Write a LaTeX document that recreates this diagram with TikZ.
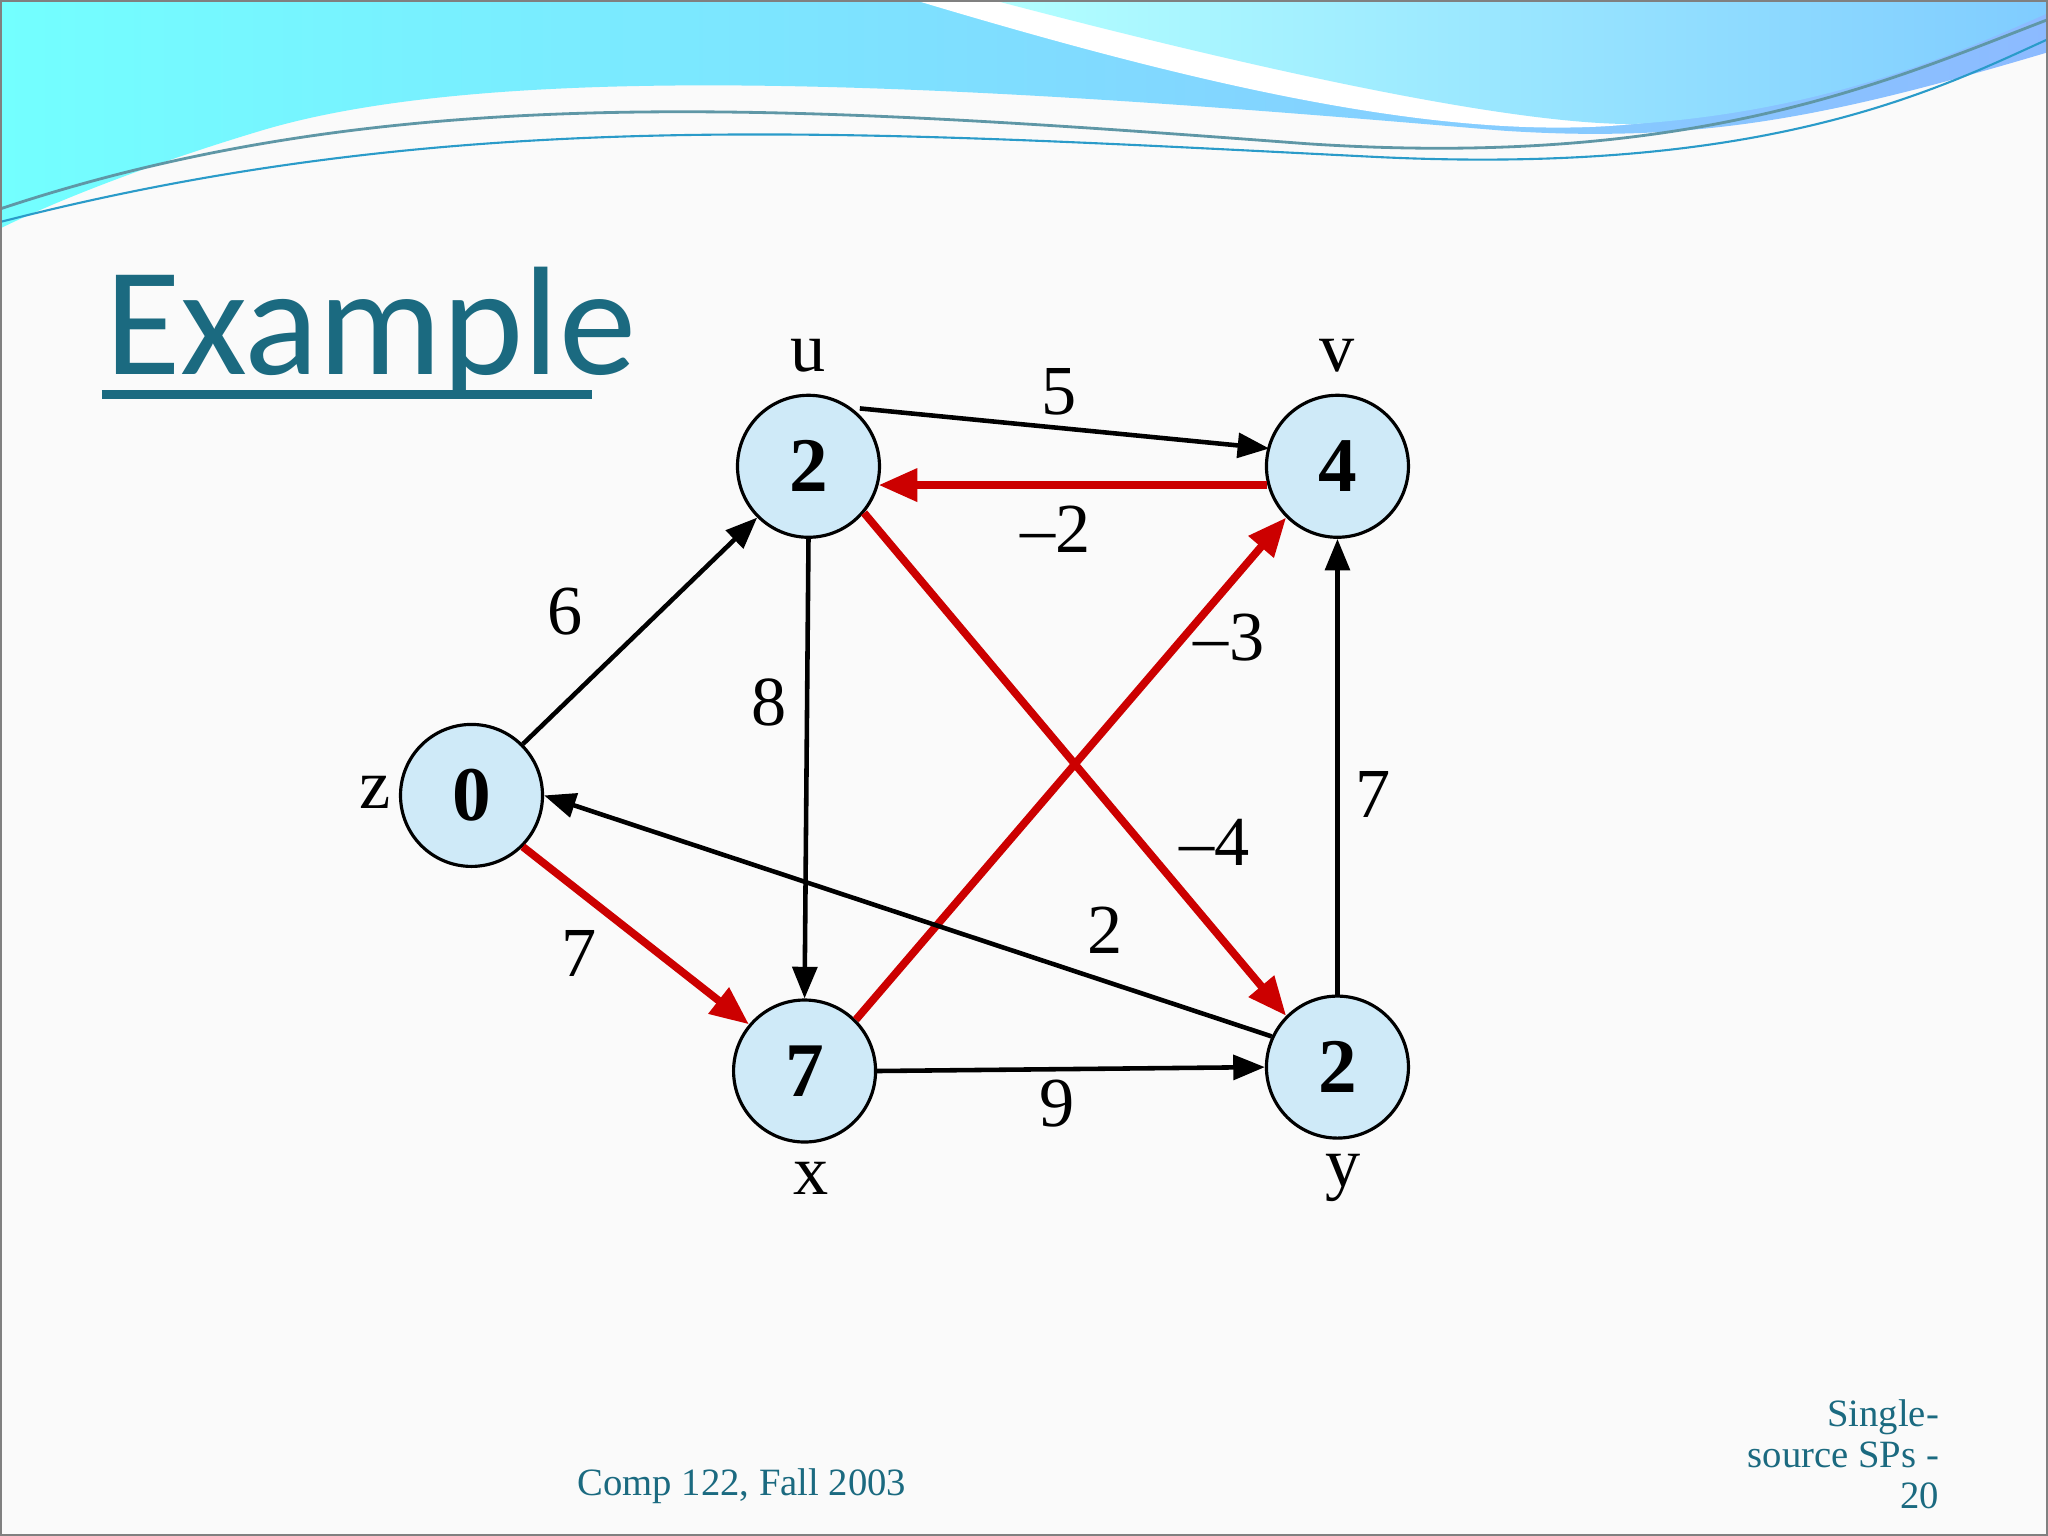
\documentclass[tikz,border=0pt]{standalone}
\usepackage{fontspec}
\setmainfont{Liberation Serif}
\newfontfamily\titlefont{Carlito}
\usetikzlibrary{arrows.meta}
\definecolor{teal1}{HTML}{1B6A80}
\definecolor{nodefill}{HTML}{CFEAF8}
\definecolor{redE}{HTML}{CC0000}
\tikzset{
 vtx/.style={circle,draw=black,line width=0.9pt,fill=nodefill,minimum size=1.42cm,inner sep=0pt,font=\fontsize{22}{24}\selectfont\bfseries},
 lab/.style={font=\fontsize{20}{22}\selectfont},
 blk/.style={draw=black,line width=1.3pt,-{Triangle[length=9pt,width=7pt]}},
 red/.style={draw=redE,line width=2.2pt,-{Triangle[length=11pt,width=9pt]}},
}
\begin{document}
\begin{tikzpicture}[x=0.013061cm,y=-0.013061cm]
\useasboundingbox (0,0) rectangle (1568,1176);
\fill[white!96!gray] (0,0) rectangle (1568,1176);
% header wave
\shade[left color=cyan!55!white, right color=cyan!40!blue!45!white]
 (0,0) -- (1568,0) -- (1568,40) .. controls (1400,90) and (1300,110) .. (1150,100)
 .. controls (800,70) and (400,40) .. (200,100) .. controls (100,130) and (30,160) .. (0,175) -- cycle;
\fill[white] (700,0) .. controls (900,60) and (1100,110) .. (1250,95) .. controls (1400,80) and (1500,30) .. (1568,0) -- cycle;
\shade[left color=cyan!30!white,right color=cyan!60!blue!50!white]
 (760,0) .. controls (950,50) and (1150,95) .. (1250,95) .. controls (1400,85) and (1500,40) .. (1568,10) -- (1568,0) -- cycle;
\draw[teal1!70,line width=0.8pt] (0,160) .. controls (300,60) and (600,80) .. (1000,110) .. controls (1300,130) and (1450,60) .. (1568,15);
\draw[cyan!60!teal,line width=0.6pt] (0,170) .. controls (350,80) and (650,100) .. (1050,120) .. controls (1350,135) and (1480,70) .. (1568,30);
\draw[gray,line width=1pt] (0,0) rectangle (1568,1176);
% title
\node[anchor=base west,font=\titlefont\fontsize{44}{48}\selectfont,text=teal1,inner sep=0pt] (title) at (80,287) {Example};
\draw[teal1,line width=2.5pt] (78,302) -- (453,302);
% nodes
\node[vtx] (u) at (619,357) {2};
\node[vtx] (v) at (1024,357) {4};
\node[vtx] (z) at (361,609) {0};
\node[vtx] (x) at (616,820) {7};
\node[vtx] (y) at (1024,817) {2};
\node[lab] (lu) at (619,272) {u};
\node[lab] (lv) at (1024,272) {v};
\node[lab] (lz) at (287,607) {z};
\node[lab] (lx) at (621,902) {x};
\node[lab] (ly) at (1028,902) {y};
% edges
\draw[blk] (u.north east) ++(0,-5) coordinate (a1) (a1) -- ([yshift=-2]v.160);
\draw[red] (v.195) -- (u.-15);
\draw[blk] (z.north east) -- (u.225);
\draw[blk] (u.south) -- (x.north);
\draw[red] (u.-40) -- (y.135);
\draw[red] (x.north east) -- (v.225);
\draw[blk] (y.north) -- (v.south);
\draw[blk] (y.155) -- (z.east);
\draw[red] (z.-45) -- (x.140);
\draw[blk] (x.east) -- (y.west);
% edge labels
\node[lab] (w1) at (811,300) {5};
\node[lab] (w2) at (808,405) {--2};
\node[lab] (w3) at (433,468) {6};
\node[lab] (w4) at (589,538) {8};
\node[lab] (w5) at (941,488) {--3};
\node[lab] (w6) at (1051,608) {7};
\node[lab] (w7) at (930,645) {--4};
\node[lab] (w8) at (846,712) {2};
\node[lab] (w9) at (443,730) {7};
\node[lab] (w10) at (809,845) {9};
% footer
\node[text=teal1,font=\fontsize{11}{12}\selectfont] (f1) at (568,1138) {Comp 122, Fall 2003};
\node[text=teal1,font=\fontsize{11}{11.7}\selectfont,align=right,anchor=north east] (f2) at (1494,1062) {Single-\\source SPs -\\20};
\end{tikzpicture}
\end{document}
